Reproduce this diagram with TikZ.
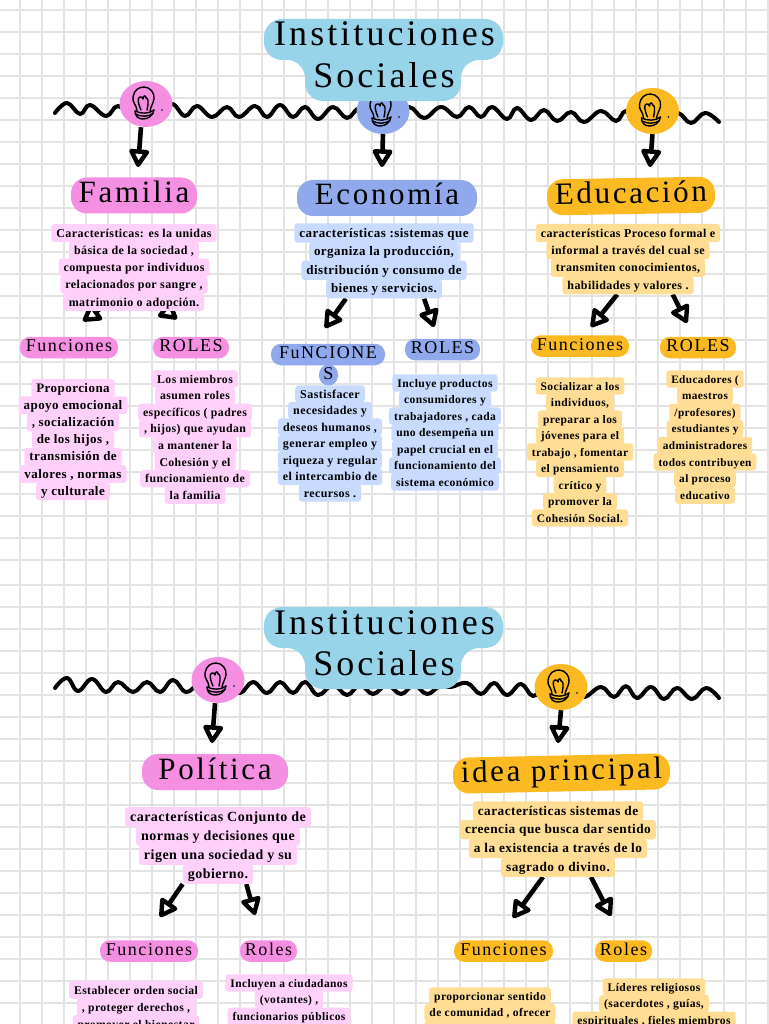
\documentclass[tikz,border=0pt]{standalone}
\usepackage{fontspec}
\usepackage{xcolor}
\usepackage{tikz}
\usetikzlibrary{arrows.meta,shapes.geometric,backgrounds}
\newfontfamily\bodyfont[LetterSpace=3.5]{Liberation Serif}
\newfontfamily\headfont[LetterSpace=8.5]{Liberation Serif}
\definecolor{gridgray}{HTML}{E3E3E3}
\definecolor{titleblue}{HTML}{97D3E9}
\definecolor{pinkmain}{HTML}{F48FE2}
\definecolor{pinksoft}{HTML}{FFD0F9}
\definecolor{bluemain}{HTML}{8FA9EC}
\definecolor{bluesoft}{HTML}{C9DAFF}
\definecolor{yellowmain}{HTML}{FCBA22}
\definecolor{yellowsoft}{HTML}{FFDD95}
\tikzset{
  gridline/.style={gridgray,line width=1.6pt},
  wavy/.style={line width=4pt,line cap=round,line join=round},
  arrowline/.style={line width=4.6pt,-{Triangle[open,length=20pt,width=22pt,line width=4.4pt,round]}},
  bulbblob/.style={shape=ellipse,minimum width=53pt,minimum height=46pt,inner sep=0pt},
  bulbstroke/.style={line width=1.4pt,line cap=round,line join=round},
  titleline/.style={font=\headfont\fontsize{36}{40}\selectfont,anchor=base,inner sep=0pt},
  mainpill/.style={font=\headfont\fontsize{31}{34}\selectfont,rounded corners=16pt,inner sep=0pt,
    minimum height=36pt,text height=20pt,text depth=6pt},
  subpill/.style={font=\headfont\fontsize{18}{20}\selectfont,rounded corners=10pt,inner sep=0pt,
    minimum height=21.5pt,text height=12pt,text depth=4pt},
  hlline/.style={rounded corners=3pt,inner xsep=5pt,inner ysep=0pt,text height=11pt,text depth=3pt},
  hlsize/.style={font=\bodyfont\bfseries\fontsize{#1}{14}\selectfont},
  bulbicon/.pic={
    \draw[bulbstroke] (-9,7) .. controls (-9,1) and (-14,-1) .. (-13,-7) .. controls (-12,-14) and (-7,-17) .. (-2,-17)
      .. controls (4,-17) and (9,-11) .. (8,-5) .. controls (7,0) and (5,2) .. (4,7);
    \draw[bulbstroke] (-5,6) .. controls (-8,-1) and (-9,-6) .. (-6,-7) .. controls (-4,-8) and (-4,-6) .. (-3,-5)
      .. controls (-3,-9) and (0,-9) .. (0,-6) .. controls (2,-6) and (3,-3) .. (1,6);
    \draw[bulbstroke] (-11,7) .. controls (-5,10) and (3,10) .. (8,6);
    \draw[bulbstroke] (-10.5,10) .. controls (-5,13) and (2,13) .. (7,9.5);
    \draw[bulbstroke] (-11,7) .. controls (-11,12) and (-8,15) .. (-3,15) .. controls (2,15) and (7,12) .. (8,6);
    \fill (16,6) circle (0.8);
  }
}
% one highlighted text block: name, x, first y, line pitch, options, lines
\newcommand{\hlblock}[6]{%
  \foreach \txt [count=\i] in {#6}
    \node[hlline,minimum height=#4pt+0.7pt,#5] (#1\i) at (#2,{#3+#4*(\i-1)}) {\txt};
}
% title card: name, vertical shift
\newcommand{\titlecard}[2]{%
  \begin{scope}[shift={(0,#2)}]
    \fill[titleblue,rounded corners=18pt] (264,19) -- (503,19) -- (503,60) -- (461,60) -- (461,101)
      -- (305,101) -- (305,60) -- (264,60) -- cycle;
    \node[titleline] (#1a) at (384.5,46) {Instituciones};
    \node[titleline] (#1b) at (384,87.3) {Sociales};
  \end{scope}
}
\begin{document}
\begin{tikzpicture}[x=1pt,y=-1pt]
  \useasboundingbox (0,0) rectangle (768,1024);
  \clip (0,0) rectangle (768,1024);
  \begin{scope}[on background layer]
    \fill[white] (0,0) rectangle (768,1024);
    % paper grid
    \foreach \x in {20,42,...,768} {\draw[gridline] (\x,0) -- (\x,1024);}
    \foreach \y in {10,32,...,560} {\draw[gridline] (0,\y) -- (768,\y);}
    \foreach \y in {585,607,...,1024} {\draw[gridline] (0,\y) -- (768,\y);}
    % wavy rules
    \draw[wavy] plot[smooth,tension=0.7] coordinates {(55,113) (67,103) (80,114) (90,105) (106,116) (118,106)
      (133,116) (146,106) (159,116) (172,104) (185,116) (197,106) (212,117) (227,107) (239,117) (255,106) (267,117)
      (280,105) (293,117) (305,107) (318,119) (333,107) (347,118) (360,108) (375,118) (392,118) (409,107) (424,118)
      (441,107) (457,117) (469,107) (481,117) (492,107) (507,119) (517,108) (531,120) (544,110) (557,121) (571,112)
      (584,122) (601,111) (616,121) (626,111) (640,121) (665,121) (678,113) (691,123) (705,113) (719,122)};
    \draw[wavy] plot[smooth,tension=0.7] coordinates {(55,688) (67,678) (78,691) (92,679) (106,692) (118,682)
      (133,692) (147,682) (160,692) (173,680) (186,692) (200,684) (213,692) (227,684) (240,693) (253,682) (267,693)
      (280,682) (293,693) (305,682) (318,695) (333,685) (347,695) (360,685) (373,694) (387,685) (401,694) (414,685)
      (427,694) (440,686) (451,687) (467,683) (481,694) (494,683) (507,695) (521,684) (533,696) (547,687) (560,697)
      (573,688) (584,697) (601,687) (614,697) (626,686) (637,698) (651,687) (664,699) (677,688) (692,699) (706,688) (719,698)};
  \end{scope}

  % lightbulbs
  \node[bulbblob,fill=bluemain] (bulbeco) at (383,111) {};
  \pic at (bulbeco) {bulbicon};
  \titlecard{titleone}{0}
  \node[bulbblob,fill=pinkmain] (bulbfam) at (146,104) {};
  \pic at (bulbfam) {bulbicon};
  \node[bulbblob,fill=yellowmain] (bulbedu) at (652.5,111) {};
  \pic at (bulbedu) {bulbicon};
  \titlecard{titletwo}{588}
  \node[bulbblob,fill=pinkmain] (bulbpol) at (218,680) {};
  \pic at (bulbpol) {bulbicon};
  \node[bulbblob,fill=yellowmain] (bulbidea) at (561,687) {};
  \pic at (bulbidea) {bulbicon};

  % main headings
  \node[mainpill,fill=pinkmain,minimum width=126pt] (familia) at (134,195.5) {Familia};
  \node[mainpill,fill=bluemain,minimum width=180pt] (economia) at (387,198) {Economía};
  \node[mainpill,fill=yellowmain,minimum width=168pt,rotate=1] (educacion) at (631,196) {Educación};
  \node[mainpill,fill=pinkmain,minimum width=146pt] (politica) at (215,772) {Política};
  \node[mainpill,fill=yellowmain,minimum width=217pt,rotate=1.2] (idea) at (561.5,773.5) {idea principal};

  % sub headings
  \node[subpill,fill=pinkmain,minimum width=98pt] (famfun) at (69,347.5) {Funciones};
  \node[subpill,fill=pinkmain,minimum width=76pt] (famrol) at (191,347.5) {ROLES};
  \node[subpill,fill=bluemain,minimum width=19pt] (ecofunb) at (328.5,375) {S};
  \node[subpill,fill=bluemain,minimum width=114pt] (ecofun) at (328,354.5) {FuNCIONE};
  \node[subpill,fill=bluemain,minimum width=75pt] (ecorol) at (442.5,349.5) {ROLES};
  \node[subpill,fill=yellowmain,minimum width=98pt] (edufun) at (580,346) {Funciones};
  \node[subpill,fill=yellowmain,minimum width=76pt] (edurol) at (698,347.5) {ROLES};
  \node[subpill,fill=pinkmain,minimum width=98pt] (polfun) at (149,951) {Funciones};
  \node[subpill,fill=pinkmain,minimum width=57pt] (polrol) at (268.5,951) {Roles};
  \node[subpill,fill=yellowmain,minimum width=99pt] (ideafun) at (503.5,951) {Funciones};
  \node[subpill,fill=yellowmain,minimum width=57pt] (idearol) at (623.5,951) {Roles};

  % text blocks
  \hlblock{famdesc}{134}{233}{17.25}{fill=pinksoft,hlsize=12}{Características: es la unidas,básica de la sociedad {,},compuesta por individuos,relacionados por sangre {,},matrimonio o adopción.}
  \hlblock{ecodesc}{384}{233}{18.6}{fill=bluesoft,hlsize=13}{características :sistemas que,{organiza la producción,},distribución y consumo de,bienes y servicios.}
  \hlblock{edudesc}{628}{233}{17.4}{fill=yellowsoft,hlsize=12}{características Proceso formal e,informal a través del cual se,{transmiten conocimientos,},habilidades y valores .}
  \hlblock{famfuntxt}{73}{388}{17.2}{fill=pinksoft,hlsize=13}{Proporciona,apoyo emocional,{, socialización},de los hijos {,},transmisión de,{valores , normas},y culturale}
  \hlblock{famroltxt}{195}{379}{16.6}{fill=pinksoft,hlsize=11.8}{Los miembros,asumen roles,específicos ( padres,{, hijos) que ayudan},a mantener la,Cohesión y el,funcionamiento de,la familia}
  \hlblock{ecofuntxt}{330}{394}{16.5}{fill=bluesoft,hlsize=12}{Sastisfacer,necesidades y,deseos humanos {,},generar empleo y,riqueza y regular,el intercambio de,recursos .}
  \hlblock{ecoroltxt}{445}{383}{16.5}{fill=bluesoft,hlsize=11.6}{Incluye productos,consumidores y,{trabajadores , cada},uno desempeña un,papel crucial en el,funcionamiento del,sistema económico}
  \hlblock{edufuntxt}{580}{386}{16.5}{fill=yellowsoft,hlsize=11.5}{Socializar a los,{individuos,},preparar a los,jóvenes para el,{trabajo , fomentar},el pensamiento,crítico y,promover la,Cohesión Social.}
  \hlblock{eduroltxt}{705}{379}{16.6}{fill=yellowsoft,hlsize=11.3}{Educadores (,maestros,/profesores),estudiantes y,administradores,todos contribuyen,al proceso,educativo}
  \hlblock{poldesc}{218}{817}{19}{fill=pinksoft,hlsize=14}{características Conjunto de,normas y decisiones que,rigen una sociedad y su,gobierno.}
  \hlblock{ideadesc}{558}{811}{18.7}{fill=yellowsoft,hlsize=13.3}{características sistemas de,creencia que busca dar sentido,a la existencia a través de lo,sagrado o divino.}
  \hlblock{polfuntxt}{136}{990}{17}{fill=pinksoft,hlsize=11.7}{Establecer orden social,{, proteger derechos ,},promover el bienestar}
  \hlblock{polroltxt}{289}{983}{16.6}{fill=pinksoft,hlsize=11.5}{Incluyen a ciudadanos,{(votantes) ,},funcionarios públicos}
  \hlblock{ideafuntxt}{490}{996}{16.6}{fill=yellowsoft,hlsize=11.6}{proporcionar sentido,{de comunidad , ofrecer},\phantom{de comunidad , ofrecer}}
  \hlblock{idearoltxt}{654}{987}{16.6}{fill=yellowsoft,hlsize=11.6}{Líderes religiosos,{(sacerdotes , guías,},{espirituales , fieles miembros}}

  % connectors
  \coordinate (tipfam) at (138,167);
  \coordinate (tipeco) at (382,167);
  \coordinate (tipedu) at (650,167);
  \coordinate (tippol) at (212,743);
  \coordinate (tipidea) at (558,743);
  \coordinate (tipfamfun) at (83,321);
  \coordinate (tipfamrol) at (177,319);
  \coordinate (tipecofun) at (325,328);
  \coordinate (tipecorol) at (434,327);
  \coordinate (tipedufun) at (591,327);
  \coordinate (tipedurol) at (687,323);
  \coordinate (tippolfun) at (160,917);
  \coordinate (tippolrol) at (255,915);
  \coordinate (tipideafun) at (513,918);
  \coordinate (tipidearol) at (611,916);
  \begin{scope}[on background layer]
    \draw[arrowline] ([xshift=-5pt]bulbfam.south) -- (tipfam);
    \draw[arrowline] (bulbeco.south) -- (tipeco);
    \draw[arrowline] (bulbedu.south) -- (tipedu);
    \draw[arrowline] ([xshift=-3pt]bulbpol.south) -- (tippol);
    \draw[arrowline] (bulbidea.south) -- (tipidea);
    \draw[arrowline] (famdesc4) -- (tipfamfun);
    \draw[arrowline] (famdesc4) -- (tipfamrol);
    \draw[arrowline] ([xshift=20pt]ecodesc4.south west) -- (tipecofun);
    \draw[arrowline] ([xshift=-18pt]ecodesc4.south east) -- (tipecorol);
    \draw[arrowline] ([xshift=55pt]edudesc4.south west) -- (tipedufun);
    \draw[arrowline] ([xshift=-21pt]edudesc4.south east) -- (tipedurol);
    \draw[arrowline] (poldesc4.south west) -- (tippolfun);
    \draw[arrowline] ([xshift=-7pt]poldesc4.south east) -- (tippolrol);
    \draw[arrowline] ([xshift=-15pt]ideadesc4.south) -- (tipideafun);
    \draw[arrowline] ([xshift=33pt]ideadesc4.south) -- (tipidearol);
  \end{scope}
\end{tikzpicture}
\end{document}
